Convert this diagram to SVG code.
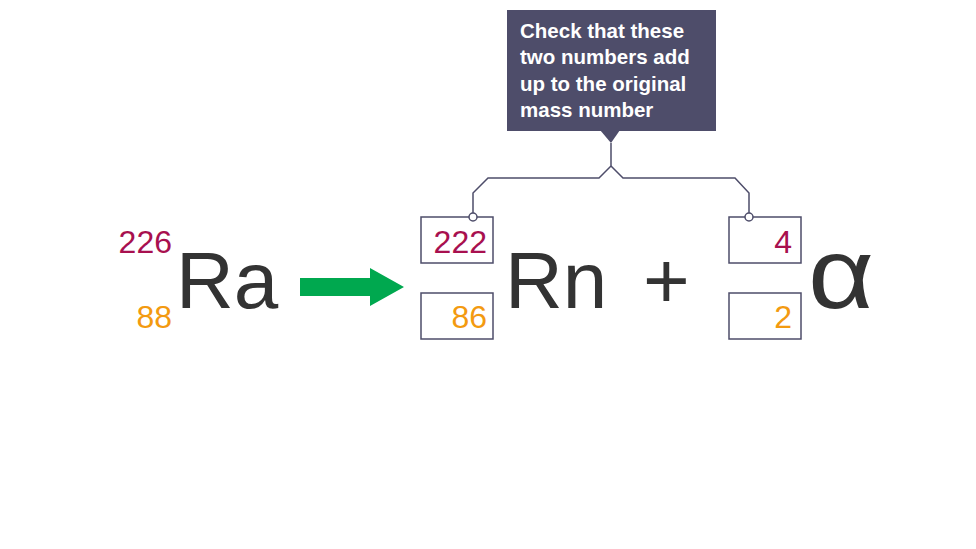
<svg xmlns="http://www.w3.org/2000/svg" width="976" height="549" viewBox="0 0 976 549">
<style>
.t{font-family:"Liberation Sans",Arial,sans-serif}
.big{font-size:80px;fill:#333}
.m{font-size:32px;fill:#a8104f}
.a{font-size:32px;fill:#f39a10}
.box{fill:#fff;stroke:#4e4d6a;stroke-width:1.5}
.ln{fill:none;stroke:#4e4d6a;stroke-width:1.5}
</style>
<rect width="976" height="549" fill="#fff"/>
<g id="ra"><text class="t m" x="172" y="253" text-anchor="end">226</text><text class="t a" x="172" y="328" text-anchor="end">88</text><text class="t big" x="176" y="308">Ra</text></g>
<g id="arrow"><polygon points="300,278 370,278 370,268 404,287 370,306 370,296 300,296" fill="#00a84f"/></g>
<g id="rn"><rect class="box" x="421" y="217" width="72" height="46"/><text class="t m" x="487" y="253" text-anchor="end">222</text><rect class="box" x="421" y="293" width="72" height="46"/><text class="t a" x="487" y="328" text-anchor="end">86</text><text class="t big" x="505" y="308">Rn</text></g>
<g id="plus"><text class="t big" x="643" y="308">+</text></g>
<g id="alpha"><rect class="box" x="729" y="217" width="72" height="46"/><text class="t m" x="792" y="253" text-anchor="end">4</text><rect class="box" x="729" y="293" width="72" height="46"/><text class="t a" x="792" y="328" text-anchor="end">2</text><text class="t" font-size="100" fill="#333" x="808" y="308" textLength="66" lengthAdjust="spacingAndGlyphs">α</text></g>
<g id="callout"><rect x="507" y="10" width="209" height="121" fill="#4e4d6a"/><polygon points="600,130 620,130 611,143" fill="#4e4d6a"/>
<text class="t" font-size="20.5" font-weight="bold" fill="#fff"><tspan x="520" y="38">Check that these</tspan><tspan x="520" y="64">two numbers add</tspan><tspan x="520" y="91">up to the original</tspan><tspan x="520" y="117">mass number</tspan></text></g>
<g id="connectors"><path class="ln" d="M611,143 V166 L599,178 H488 L473,193 V213"/><path class="ln" d="M611,166 L623,178 H735 L749,193 V213"/><circle cx="473" cy="217" r="4" fill="#fff" stroke="#4e4d6a" stroke-width="1.5"/><circle cx="749" cy="217" r="4" fill="#fff" stroke="#4e4d6a" stroke-width="1.5"/></g>
</svg>
